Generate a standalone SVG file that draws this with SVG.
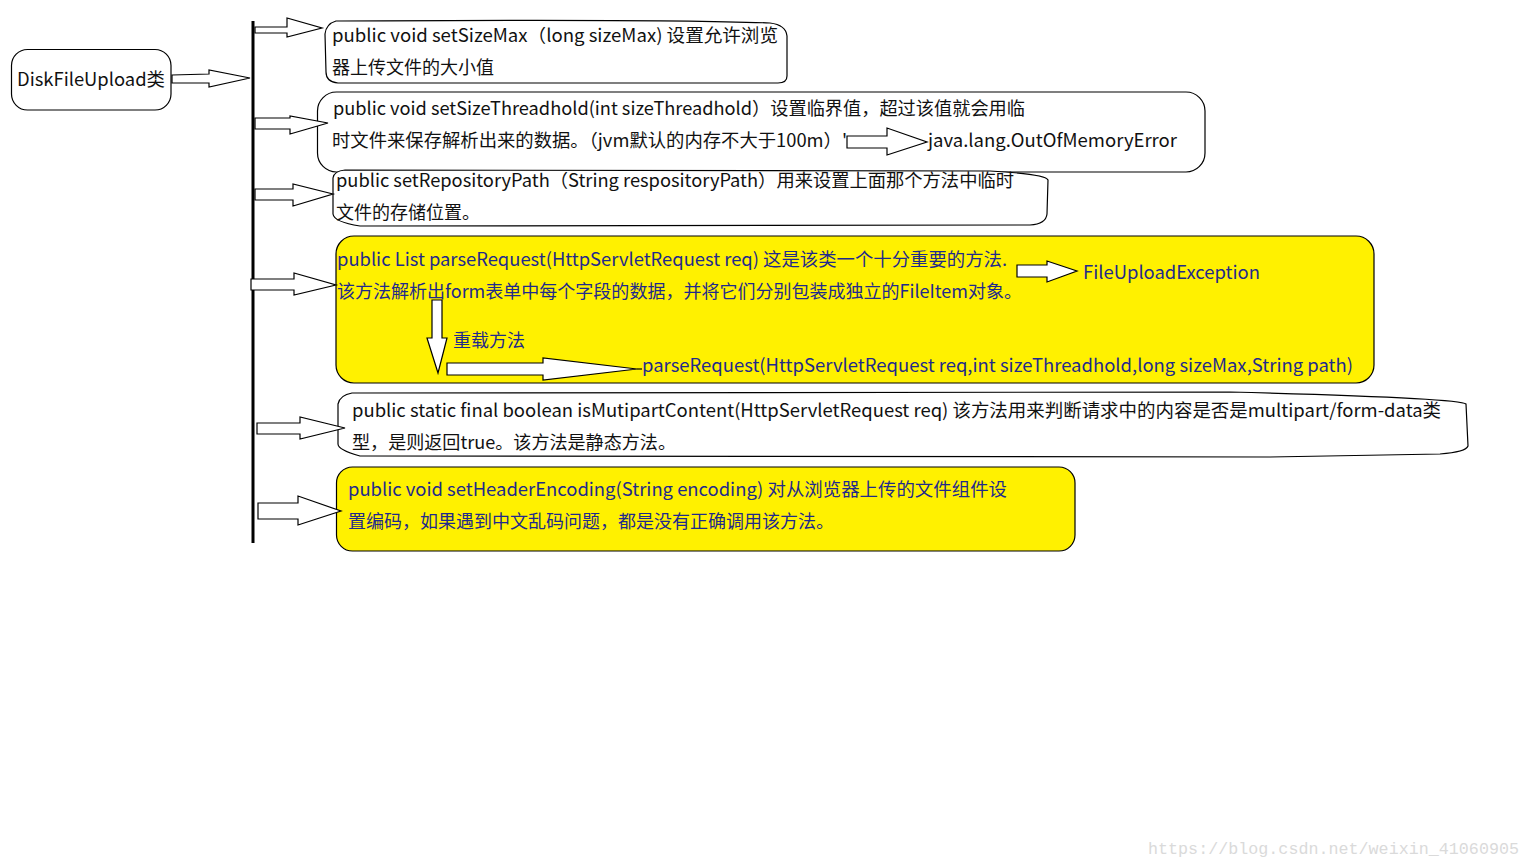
<svg xmlns="http://www.w3.org/2000/svg" width="1530" height="868" viewBox="0 0 1530 868">
<style>
.t{font-family:"Noto Sans CJK SC","Noto Sans",sans-serif;font-size:18px;fill:#111}
.y{fill:#1f2a8c}
.box{fill:#fff;stroke:#000;stroke-width:1.2}
.ybox{fill:#fff100;stroke:#000;stroke-width:1.2}
.ar{fill:#fff;stroke:#000;stroke-width:1.2;stroke-linejoin:miter}
.wm{font-family:"Liberation Mono","DejaVu Sans Mono",monospace;font-size:17px;fill:#dadada}
</style>
<rect width="1530" height="868" fill="#fff"/>

<g id="node-diskfileupload">
<rect class="box" x="11.5" y="49.5" width="159.5" height="60.5" rx="16"/>
<text class="t" x="17" y="86" textLength="148" lengthAdjust="spacingAndGlyphs">DiskFileUpload类</text>
</g>

<g id="node-setSizeMax">
<path class="box" d="M 336 21 C 500 20 700 20 770 23 Q 786 25 787 36 L 787 76 Q 787 83 778 83 L 338 83 Q 326 82 326 72 L 325 34 Q 326 24 336 21 Z"/>
<text class="t" x="332" y="42" textLength="446" lengthAdjust="spacingAndGlyphs">public void setSizeMax（long sizeMax) 设置允许浏览</text>
<text class="t" x="332" y="74" textLength="162" lengthAdjust="spacingAndGlyphs">器上传文件的大小值</text>
</g>

<g id="node-setSizeThreadhold">
<rect class="box" x="317.5" y="92" width="887.5" height="80" rx="19"/>
<text class="t" x="333" y="115" textLength="692" lengthAdjust="spacingAndGlyphs">public void setSizeThreadhold(int sizeThreadhold）设置临界值，超过该值就会用临</text>
<text class="t" x="332" y="147" textLength="515" lengthAdjust="spacingAndGlyphs">时文件来保存解析出来的数据。（jvm默认的内存不大于100m）'</text>
<text class="t" x="928" y="147" textLength="249" lengthAdjust="spacingAndGlyphs">java.lang.OutOfMemoryError</text>
</g>

<g id="node-setRepositoryPath">
<path class="box" d="M 345 170 L 990 171 Q 1046 174 1048 180 L 1047 214 Q 1046 224 1030 225 L 360 226 Q 334 222 333 214 L 333 178 Q 334 171 345 170 Z"/>
<text class="t" x="336" y="187" textLength="678" lengthAdjust="spacingAndGlyphs">public setRepositoryPath（String respositoryPath）用来设置上面那个方法中临时</text>
<text class="t" x="336" y="219" textLength="144" lengthAdjust="spacingAndGlyphs">文件的存储位置。</text>
</g>

<g id="node-parseRequest">
<rect class="ybox" x="336" y="236" width="1038" height="147" rx="18"/>
<text class="t y" x="337" y="266" textLength="670" lengthAdjust="spacingAndGlyphs">public List parseRequest(HttpServletRequest req) 这是该类一个十分重要的方法.</text>
<text class="t y" x="337" y="298" textLength="685" lengthAdjust="spacingAndGlyphs">该方法解析出form表单中每个字段的数据，并将它们分别包装成独立的FileItem对象。</text>
<text class="t y" x="1083" y="279" textLength="177" lengthAdjust="spacingAndGlyphs">FileUploadException</text>
<text class="t y" x="453" y="347" textLength="72" lengthAdjust="spacingAndGlyphs">重载方法</text>
<text class="t y" x="642" y="372" textLength="711" lengthAdjust="spacingAndGlyphs">parseRequest(HttpServletRequest req,int sizeThreadhold,long sizeMax,String path)</text>
</g>

<g id="node-isMultipartContent">
<path class="box" d="M 352 393 L 1230 392 Q 1460 398 1466 404 L 1468 446 Q 1466 452 1440 454 L 1270 457 L 360 456 Q 338 450 338 444 L 338 404 Q 340 395 352 393 Z"/>
<text class="t" x="352" y="417" textLength="1089" lengthAdjust="spacingAndGlyphs">public static final boolean isMutipartContent(HttpServletRequest req) 该方法用来判断请求中的内容是否是multipart/form-data类</text>
<text class="t" x="352" y="449" textLength="324" lengthAdjust="spacingAndGlyphs">型，是则返回true。该方法是静态方法。</text>
</g>

<g id="node-setHeaderEncoding">
<rect class="ybox" x="336.5" y="467" width="738.5" height="84" rx="16"/>
<text class="t y" x="348" y="496" textLength="659" lengthAdjust="spacingAndGlyphs">public void setHeaderEncoding(String encoding) 对从浏览器上传的文件组件设</text>
<text class="t y" x="348" y="528" textLength="486" lengthAdjust="spacingAndGlyphs">置编码，如果遇到中文乱码问题，都是没有正确调用该方法。</text>
</g>

<g id="connectors">
<line x1="253" y1="21" x2="253" y2="543" stroke="#000" stroke-width="3"/>
<polygon class="ar" points="172,75 209,74 209,70 250,78 209,87 209,83 172,83"/>
<polygon class="ar" points="255,27 287,27 287,18 322,28 287,37 287,33 255,33"/>
<polygon class="ar" points="255,118 290,118 290,116 328,123 290,134 290,129 255,129"/>
<polygon class="ar" points="255,189 293,189 293,184 333,194 293,206 293,200 255,200"/>
<polygon class="ar" points="251,279 294,279 294,273 336,285 294,295 294,290 251,290"/>
<polygon class="ar" points="257,423 300,423 300,417 345,428 300,439 300,434 257,434"/>
<polygon class="ar" points="258,503 298,503 298,496 341,511 298,525 298,519 258,519"/>
<polygon class="ar" points="847,136 887,136 887,128 927,142 887,155 887,148 847,148"/>
<polygon class="ar" points="1017,265 1047,265 1047,261 1077,271 1047,282 1047,277 1017,277"/>
<polygon class="ar" points="432,300 442,300 442,338 447,338 438,373 427,338 432,338"/>
<polygon class="ar" points="447,363 543,363 543,358 637,369 543,380 543,375 447,375"/>
<line x1="637" y1="369" x2="642" y2="369" stroke="#000" stroke-width="1.2"/>
</g>

<text class="wm" x="1148" y="854" textLength="371" lengthAdjust="spacingAndGlyphs">https://blog.csdn.net/weixin_41060905</text>
</svg>
